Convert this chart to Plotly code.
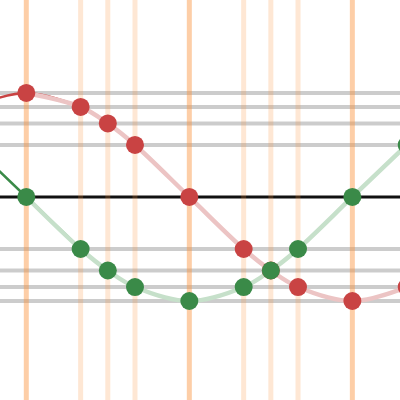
import plotly.graph_objects as go

# angles in degrees where markers are shown
angles = [0, 30, 45, 60, 90, 120, 135, 150, 180, 210]
red_vals = [1.0, 0.866, 0.707, 0.5, 0.0, -0.5, -0.707, -0.866, -1.0, -0.866]
green_vals = [0.0, -0.5, -0.707, -0.866, -1.0, -0.866, -0.707, -0.5, 0.0, 0.5]

# lead-in segment (drawn dark, thin)
lead_angles = [-30, 0, 30]
lead_red = [0.866, 1.0, 0.866]
lead_green = [0.5, 0.0, -0.5]

h_gray = [1.0, 0.866, 0.707, 0.5, -0.5, -0.707, -0.866, -1.0]
h_black = [0.0]
v_main = [0, 90, 180]
v_minor = [30, 45, 60, 120, 135, 150]

RED = "#c94343"
GREEN = "#3a8a48"
RED_LIGHT = "#ecc4c4"
GREEN_LIGHT = "#c6e0ca"

fig = go.Figure()

shapes = []
for y in h_gray:
    shapes.append(dict(type="line", xref="paper", x0=0, x1=1, yref="y", y0=y, y1=y,
                       line=dict(color="rgba(0,0,0,0.2)", width=4), layer="below"))
for y in h_black:
    shapes.append(dict(type="line", xref="paper", x0=0, x1=1, yref="y", y0=y, y1=y,
                       line=dict(color="#111111", width=3), layer="below"))
for x in v_main:
    shapes.append(dict(type="line", yref="paper", y0=0, y1=1, xref="x", x0=x, x1=x,
                       line=dict(color="rgba(251,146,60,0.45)", width=5), layer="below"))
for x in v_minor:
    shapes.append(dict(type="line", yref="paper", y0=0, y1=1, xref="x", x0=x, x1=x,
                       line=dict(color="rgba(251,146,60,0.22)", width=5), layer="below"))

fig.add_trace(go.Scatter(x=lead_angles, y=lead_red, mode="lines",
                         line=dict(color=RED, width=2.5, shape="spline"), hoverinfo="skip"))
fig.add_trace(go.Scatter(x=lead_angles, y=lead_green, mode="lines",
                         line=dict(color=GREEN, width=2.5, shape="spline"), hoverinfo="skip"))
fig.add_trace(go.Scatter(x=angles, y=red_vals, mode="lines",
                         line=dict(color=RED_LIGHT, width=4.5, shape="spline"), hoverinfo="skip"))
fig.add_trace(go.Scatter(x=angles, y=green_vals, mode="lines",
                         line=dict(color=GREEN_LIGHT, width=4.5, shape="spline"), hoverinfo="skip"))
fig.add_trace(go.Scatter(x=angles, y=red_vals, mode="markers",
                         marker=dict(color=RED, size=18, line=dict(width=0))))
fig.add_trace(go.Scatter(x=angles, y=green_vals, mode="markers",
                         marker=dict(color=GREEN, size=18, line=dict(width=0))))

fig.update_layout(
    width=400, height=400,
    margin=dict(l=0, r=0, t=0, b=0),
    paper_bgcolor="white", plot_bgcolor="white",
    showlegend=False,
    shapes=shapes,
    xaxis=dict(range=[-14.52, 206.3], visible=False, showgrid=False, zeroline=False),
    yaxis=dict(range=[-1.952, 1.894], visible=False, showgrid=False, zeroline=False),
)

fig.write_html(
    "out.html",
    config={"displayModeBar": False},
    post_script="document.body.style.margin='0';document.body.style.overflow='hidden';",
)
